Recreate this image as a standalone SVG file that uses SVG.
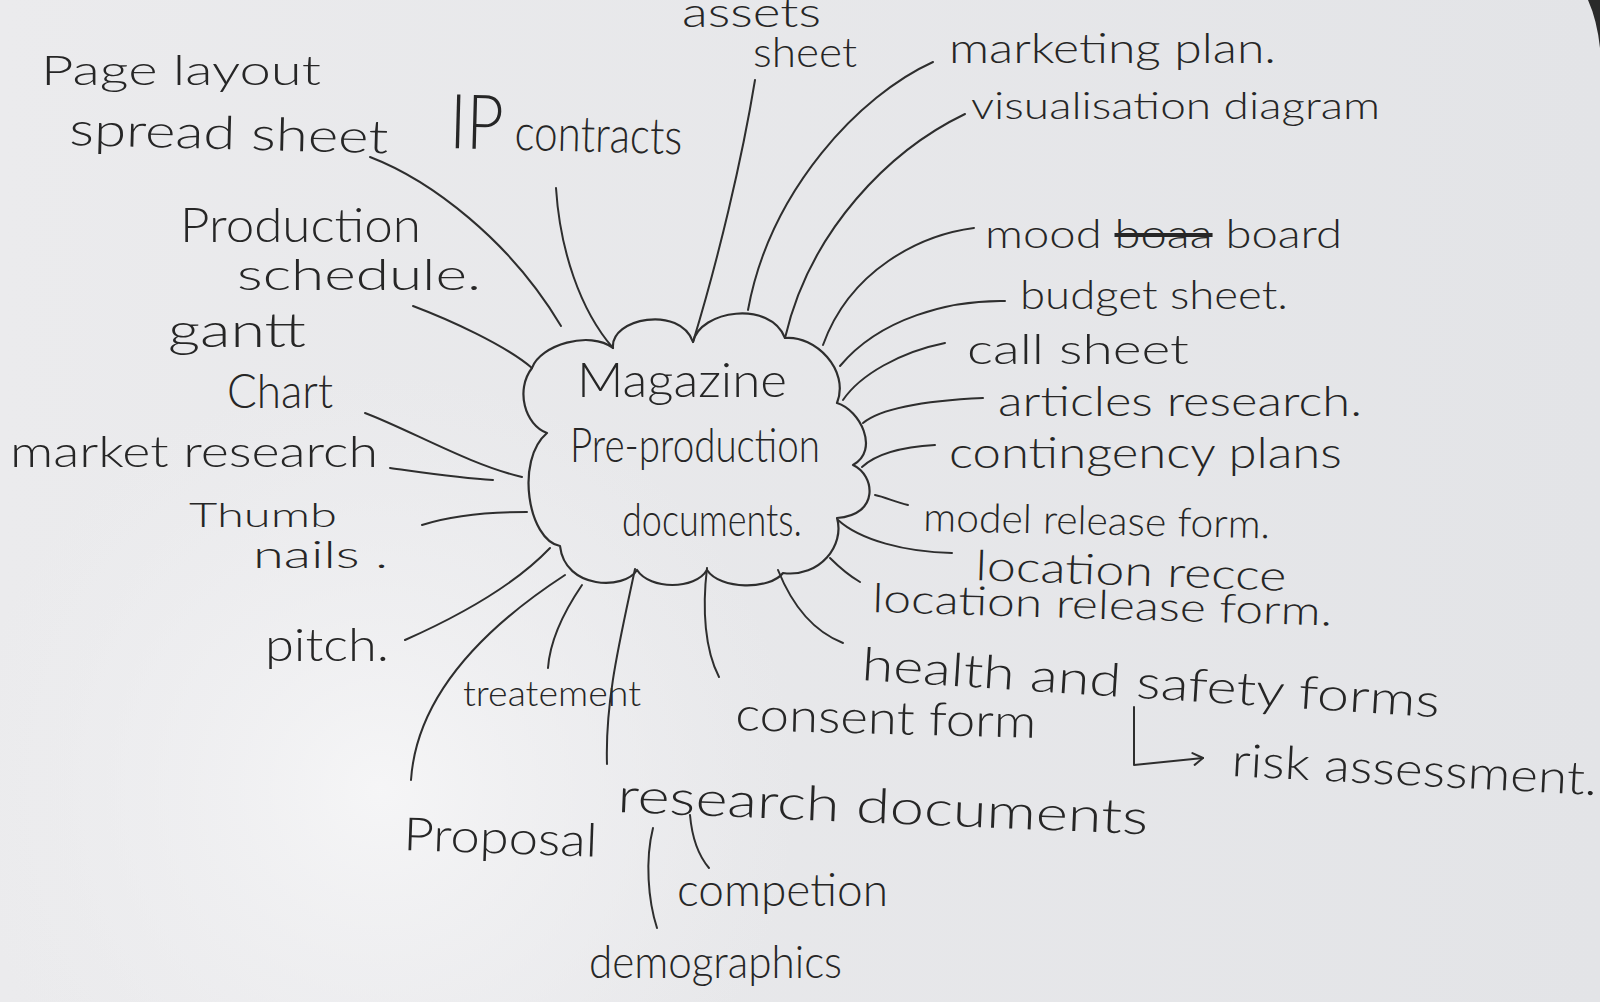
<svg xmlns="http://www.w3.org/2000/svg" width="1600" height="1002" viewBox="0 0 1600 1002">
<defs>
<radialGradient id="glare" cx="380" cy="790" r="420" gradientUnits="userSpaceOnUse">
<stop offset="0" stop-color="#f6f6f7" stop-opacity="0.95"/>
<stop offset="0.6" stop-color="#f0f0f2" stop-opacity="0.5"/>
<stop offset="1" stop-color="#eeeef0" stop-opacity="0"/>
</radialGradient>
<linearGradient id="shade" x1="0" y1="0" x2="1" y2="0">
<stop offset="0" stop-color="#ebebed"/>
<stop offset="1" stop-color="#e3e4e7"/>
</linearGradient>
<marker id="chev" markerWidth="16" markerHeight="16" refX="11" refY="7" orient="auto" markerUnits="userSpaceOnUse">
<path d="M1,1 L11,7 L2,13" fill="none" stroke="#2e2e2e" stroke-width="2" stroke-linecap="round" stroke-linejoin="round"/>
</marker>
<style>
text{font-family:Lato,"Liberation Sans","DejaVu Sans",sans-serif;font-weight:300;fill:#262626;}
.ln{fill:none;stroke:#2e2e2e;stroke-width:2;stroke-linecap:round;stroke-linejoin:round;}
.cloud{fill:none;stroke:#2e2e2e;stroke-width:2.2;stroke-linejoin:round;}
</style>
</defs>
<rect width="1600" height="1002" fill="url(#shade)"/>
<rect width="1600" height="1002" fill="url(#glare)"/>
<path d="M1588,0 Q1597,20 1600,48 L1600,0 Z" fill="#2a2a2a"/>

<g id="connectors">
<path class="ln" d="M370,157 C430,180 510,240 561,326"/>
<path class="ln" d="M556,188 C560,250 580,310 613,348"/>
<path class="ln" d="M755,80 C742,160 718,260 693,342"/>
<path class="ln" d="M933,62 C860,95 770,190 748,310"/>
<path class="ln" d="M965,114 C890,150 810,230 785,338"/>
<path class="ln" d="M974,228 C920,235 850,270 823,345"/>
<path class="ln" d="M1005,301 C950,300 880,318 840,366"/>
<path class="ln" d="M945,343 C900,352 860,375 843,400"/>
<path class="ln" d="M983,398 C940,400 885,405 863,423"/>
<path class="ln" d="M935,445 C900,447 875,455 862,467"/>
<path class="ln" d="M908,505 C895,502 885,497 875,495"/>
<path class="ln" d="M952,553 C905,552 860,540 838,520"/>
<path class="ln" d="M860,582 C848,575 838,566 830,558"/>
<path class="ln" d="M778,570 C790,600 810,630 843,643"/>
<path class="ln" d="M707,568 C702,610 705,650 719,677"/>
<path class="ln" d="M635,569 C620,640 605,700 607,764"/>
<path class="ln" d="M582,585 C565,610 550,640 548,668"/>
<path class="ln" d="M565,575 C450,650 415,720 411,780"/>
<path class="ln" d="M405,640 C450,620 510,590 550,548"/>
<path class="ln" d="M422,525 C450,516 490,512 527,512"/>
<path class="ln" d="M390,468 C420,472 460,478 493,480"/>
<path class="ln" d="M365,413 C410,430 470,465 522,477"/>
<path class="ln" d="M413,306 C450,320 505,345 532,368"/>
<path class="ln" d="M653,828 C645,860 648,900 657,928"/>
<path class="ln" d="M690,815 C692,838 698,855 709,868"/>
<path class="ln" d="M1134,707 L1134,765 L1203,758" marker-end="url(#chev)"/>
</g>

<g id="center">
<path class="cloud" d="M532,368 C540,345 590,330 613,348 C610,318 680,305 693,342 C700,310 770,300 785,338 C815,335 850,370 837,403 C860,410 880,450 853,465 C875,475 880,515 837,518 C845,545 820,578 783,573 C770,590 720,590 707,570 C695,590 650,590 637,570 C625,590 565,590 560,546 C528,540 515,460 547,433 C525,425 515,390 532,368 Z"/>
<text x="577" y="397" font-size="48" textLength="210" lengthAdjust="spacingAndGlyphs">Magazine</text>
<text x="570" y="462" font-size="48" textLength="250" lengthAdjust="spacingAndGlyphs">Pre-production</text>
<text x="622" y="536" font-size="46" textLength="180" lengthAdjust="spacingAndGlyphs">documents.</text>
</g>

<g id="n-assets-sheet">
<text x="682" y="27" font-size="42" textLength="139" lengthAdjust="spacingAndGlyphs">assets</text>
<text x="753" y="67" font-size="42" textLength="104" lengthAdjust="spacingAndGlyphs">sheet</text>
</g>
<g id="n-marketing-plan"><text x="949" y="63" font-size="42" textLength="327" lengthAdjust="spacingAndGlyphs">marketing plan.</text></g>
<g id="n-visualisation"><text x="971" y="119" font-size="38" textLength="409" lengthAdjust="spacingAndGlyphs">visualisation diagram</text></g>
<g id="n-mood-board"><text x="985" y="248" font-size="40" textLength="357" lengthAdjust="spacingAndGlyphs">mood <tspan text-decoration="line-through">boaa</tspan> board</text></g>
<g id="n-budget-sheet"><text x="1020" y="309" font-size="40" textLength="268" lengthAdjust="spacingAndGlyphs">budget sheet.</text></g>
<g id="n-call-sheet"><text x="967" y="364" font-size="42" textLength="222" lengthAdjust="spacingAndGlyphs">call sheet</text></g>
<g id="n-articles-research"><text x="998" y="416" font-size="42" textLength="364" lengthAdjust="spacingAndGlyphs">articles research.</text></g>
<g id="n-contingency"><text x="949" y="468" font-size="44" textLength="393" lengthAdjust="spacingAndGlyphs">contingency plans</text></g>
<g id="n-model-release"><text x="923" y="531" font-size="40" textLength="347" lengthAdjust="spacingAndGlyphs" transform="rotate(1.2 923 531)">model release form.</text></g>
<g id="n-location-recce"><text x="975" y="580" font-size="42" textLength="311" lengthAdjust="spacingAndGlyphs" transform="rotate(2 975 580)">location recce</text></g>
<g id="n-location-release"><text x="872" y="612" font-size="40" textLength="460" lengthAdjust="spacingAndGlyphs" transform="rotate(1.7 872 612)">location release form.</text></g>
<g id="n-health-safety"><text x="861" y="680" font-size="46" textLength="579" lengthAdjust="spacingAndGlyphs" transform="rotate(3.7 861 680)">health and safety forms</text></g>
<g id="n-risk"><text x="1231" y="776" font-size="46" textLength="366" lengthAdjust="spacingAndGlyphs" transform="rotate(3 1231 776)">risk assessment.</text></g>
<g id="n-consent"><text x="735" y="730" font-size="46" textLength="301" lengthAdjust="spacingAndGlyphs" transform="rotate(1.5 735 730)">consent form</text></g>
<g id="n-research"><text x="617" y="812" font-size="48" textLength="531" lengthAdjust="spacingAndGlyphs" transform="rotate(2.4 617 812)">research documents</text></g>
<g id="n-competion"><text x="677" y="906" font-size="46" textLength="211" lengthAdjust="spacingAndGlyphs">competion</text></g>
<g id="n-demographics"><text x="589" y="978" font-size="46" textLength="253" lengthAdjust="spacingAndGlyphs">demographics</text></g>
<g id="n-proposal"><text x="403" y="850" font-size="46" textLength="194" lengthAdjust="spacingAndGlyphs" transform="rotate(2 403 850)">Proposal</text></g>
<g id="n-treatement"><text x="463" y="706" font-size="36" textLength="178" lengthAdjust="spacingAndGlyphs">treatement</text></g>
<g id="n-pitch"><text x="265" y="661" font-size="46" textLength="124" lengthAdjust="spacingAndGlyphs">pitch.</text></g>
<g id="n-thumbnails">
<text x="189" y="527" font-size="34" textLength="148" lengthAdjust="spacingAndGlyphs">Thumb</text>
<text x="253" y="568" font-size="38" textLength="135" lengthAdjust="spacingAndGlyphs">nails .</text>
</g>
<g id="n-market-research"><text x="10" y="467" font-size="44" textLength="368" lengthAdjust="spacingAndGlyphs">market research</text></g>
<g id="n-gantt">
<text x="168" y="347" font-size="48" textLength="138" lengthAdjust="spacingAndGlyphs">gantt</text>
<text x="227" y="408" font-size="48" textLength="106" lengthAdjust="spacingAndGlyphs">Chart</text>
</g>
<g id="n-production-schedule">
<text x="180" y="242" font-size="48" textLength="241" lengthAdjust="spacingAndGlyphs">Production</text>
<text x="237" y="290" font-size="44" textLength="244" lengthAdjust="spacingAndGlyphs">schedule.</text>
</g>
<g id="n-ip-contracts"><text x="449" y="148" font-size="50" textLength="233" lengthAdjust="spacingAndGlyphs" transform="rotate(1.5 449 148)"><tspan font-size="76">IP</tspan> contracts</text></g>
<g id="n-page-layout">
<text x="41" y="85" font-size="42" textLength="280" lengthAdjust="spacingAndGlyphs">Page layout</text>
<text x="69" y="145" font-size="46" textLength="319" lengthAdjust="spacingAndGlyphs" transform="rotate(1.5 69 145)">spread sheet</text>
</g>
</svg>
